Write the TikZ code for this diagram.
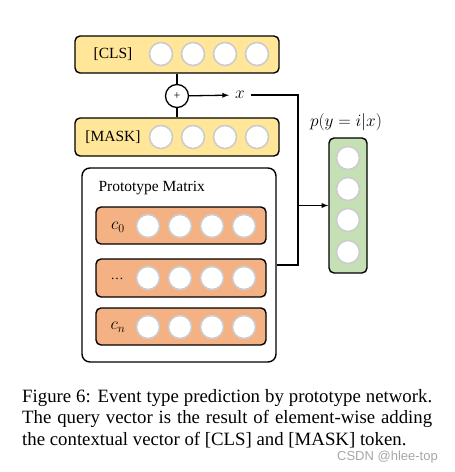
\documentclass[tikz,border=0pt]{standalone}
\usepackage{fontspec}
\setmainfont{Liberation Serif}
\setsansfont{Liberation Sans}
\definecolor{tokfill}{HTML}{FFE699}
\definecolor{protofill}{HTML}{F4B183}
\definecolor{probfill}{HTML}{C5E0B4}
\begin{document}
\begin{tikzpicture}[x=1pt,y=-1pt]
\tikzstyle{row}=[draw, line width=1.4pt, rounded corners=5pt, minimum width=204pt, minimum height=37pt]
\tikzstyle{unit}=[draw=gray!40, fill=white, line width=1.6pt, circle, minimum size=23pt, inner sep=0pt]
\tikzstyle{lbl}=[font=\fontsize{15.5}{17}\selectfont]
\tikzstyle{mathlbl}=[font=\fontsize{17.5}{19}\selectfont]
\tikzstyle{capline}=[anchor=base west, inner sep=0pt, font=\fontsize{18.8}{21}\selectfont]
\tikzstyle{link}=[line width=1.3pt]
\useasboundingbox (0,0) rectangle (455,472);

% query side
\draw (177,54.5) node[row, fill=tokfill] (cls) {};
\draw (177,137) node[row, fill=tokfill, minimum height=38pt] (mask) {};
\draw (113,54) node[lbl] (clstxt) {[CLS]};
\draw (113,137) node[lbl] (masktxt) {[MASK]};
\foreach \i/\cx in {1/161,2/193,3/225,4/257} {
  \draw (\cx,54) node[unit] (cls\i) {};
  \draw (\cx,137) node[unit] (mask\i) {};
}
\draw (177,96) node[draw, circle, line width=1.3pt, minimum size=23pt, inner sep=0pt, font=\fontsize{12}{12}\selectfont] (plus) {+};
\draw (240,95) node[mathlbl, inner sep=6pt] (xq) {$x$};

% prototype matrix
\draw (179,265) node[draw, line width=1.4pt, rounded corners=8pt, minimum width=194pt, minimum height=194pt] (proto) {};
\draw (95,188) node[lbl, anchor=west] (prototxt) {Prototype Matrix};
\draw (181,225.5) node[row, fill=protofill, minimum width=170pt] (c0) {};
\draw (181,278) node[row, fill=protofill, minimum width=170pt, minimum height=38pt] (cdots) {};
\draw (181,326.5) node[row, fill=protofill, minimum width=170pt] (cn) {};
\draw (118,227) node[mathlbl] (c0txt) {$c_0$};
\draw (117,279) node[font=\fontsize{13}{14}\selectfont] (cdotstxt) {\ldots};
\draw (118,327) node[mathlbl] (cntxt) {$c_n$};
\foreach \i/\cx in {1/148,2/180,3/212,4/244} {
  \draw (\cx,226) node[unit] (czero\i) {};
  \draw (\cx,278) node[unit] (cmid\i) {};
  \draw (\cx,327) node[unit] (clast\i) {};
}

% output distribution
\draw (348,205.5) node[draw, line width=1.4pt, rounded corners=5pt, fill=probfill, minimum width=38pt, minimum height=135pt] (prob) {};
\foreach \i/\cy in {1/158,2/189,3/220,4/252}
  \draw (348,\cy) node[unit] (prob\i) {};
\draw (346,122) node[mathlbl] (probtxt) {$p(y=i|x)$};
\coordinate (join) at (298,205.5);

\draw[link] (cls) -- (plus);
\draw[link] (plus) -- (mask);
\draw[link, -latex] (plus) -- (xq);
\draw[link] (xq) -| (join);
\draw[link] (proto) -| (join);
\draw[link, -latex] (join) -- (prob);

% caption
\draw (22,402) node[capline] (cap1) {\makebox[410pt][s]{Figure 6: Event type prediction by prototype network.}};
\draw (22,423.5) node[capline] (cap2) {\makebox[410pt][s]{The query vector is the result of element-wise adding}};
\draw (22,445) node[capline] (cap3) {the contextual vector of [CLS] and [MASK] token.};
\draw (438,457) node[anchor=east, inner sep=0pt, text=gray!70, font=\sffamily\fontsize{13}{14}\selectfont] (mark) {CSDN @hlee-top};
\end{tikzpicture}
\end{document}
